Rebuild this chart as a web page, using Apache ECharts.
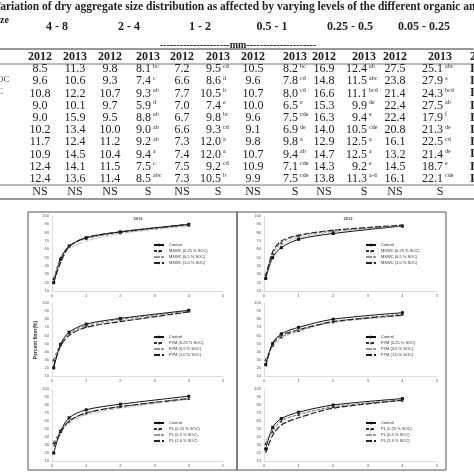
<!DOCTYPE html>
<html>
<head>
<meta charset="utf-8">
<script src="https://cdn.jsdelivr.net/npm/echarts@6/dist/echarts.min.js"></script>
<style>body{margin:0;background:#fff}#c{width:474px;height:474px}</style>
</head>
<body>
<div id="c"></div>
<script>
// table data
let groups = ['4 - 8', '2 - 4', '1 - 2', '0.5 - 1', '0.25 - 0.5', '0.05 - 0.25'];
let c48_12 = ['8.5','9.6','10.8','9.0','9.0','10.2','11.7','10.9','12.4','12.4'];
let c48_13 = ['11.3','10.6','12.2','10.1','15.9','13.4','12.4','14.5','14.1','13.6'];
let c24_12 = ['9.8','9.3','10.7','9.7','9.5','10.0','11.2','10.4','11.5','11.4'];
let c24_13 = ['8.1','7.4','9.3','5.9','8.8','9.0','9.2','9.4','7.5','8.5'];
let s24_13 = ['bc','c','ab','d','ab','ab','ab','a','c','abc'];
let c12_12 = ['7.2','6.6','7.7','7.0','6.7','6.6','7.3','7.4','7.5','7.3'];
let c12_13 = ['9.5','8.6','10.5','7.4','9.8','9.3','12.0','12.0','9.2','10.5'];
let s12_13 = ['cd','d','b','e','bc','cd','a','a','cd','b'];
let c051_12 = ['10.5','9.6','10.7','10.0','9.6','9.1','9.8','10.7','10.9','9.9'];
let c051_13 = ['8.2','7.8','8.0','6.5','7.5','6.9','9.8','9.4','7.1','7.5'];
let s051_13 = ['bc','cd','cd','e','cde','de','a','ab','cde','cde'];
let c025_12 = ['16.9','14.8','16.6','15.3','16.3','14.0','12.9','14.7','14.3','13.8'];
let c025_13 = ['12.4','11.5','11.1','9.9','9.4','10.5','12.5','12.5','9.2','11.3'];
let s025_13 = ['ab','abc','bcd','de','e','cde','a','a','e','a-d'];
let c005_12 = ['27.5','23.8','21.4','22.4','22.4','20.8','16.1','13.2','14.5','16.1'];
let c005_13 = ['25.1','27.9','24.3','27.5','17.9','21.3','22.5','21.4','18.7','22.1'];
let s005_13 = ['abc','a','bcd','ab','f','de','cd','de','e','cde'];
let signif = ['NS','NS','NS','S','NS','S','NS','S','NS','S','NS','S'];

// chart data
let sizes = [0.05, 0.25, 0.5, 1, 2, 4];
let panelNames = [
  ['Control', 'MSWC (0.25 % SOC)', 'MSWC (0.5 % SOC)', 'MSWC (1.0 % SOC)'],
  ['Control', 'FYM (0.25 % SOC)', 'FYM (0.5 % SOC)', 'FYM (1.0 % SOC)'],
  ['Control', 'PL (0.25 % SOC)', 'PL (0.5 % SOC)', 'PL (1.0 % SOC)']
];
let mswc12 = [[20,48,64,74,81,90],[25,50,64,73,80,89],[27,45,60,70,79,88],[20,44,63,74,81,90]];
let mswc13 = [[25,50,62,72,79,88],[30,55,68,76,82,88],[28,52,65,74,81,88],[26,57,70,77,83,89]];
let fym12 = [[20,49,64,74,81,91],[30,50,63,72,80,90],[27,48,62,70,78,89],[22,47,60,70,77,89]];
let fym13 = [[24,50,62,70,80,88],[30,48,58,66,77,86],[28,46,57,65,76,84],[22,50,60,67,77,85]];
let pl12 = [[20,47,64,74,81,91],[33,48,60,70,78,88],[30,46,58,68,76,87],[28,45,60,70,78,88]];
let pl13 = [[25,52,63,71,80,88],[32,47,60,68,78,86],[35,50,61,68,77,85],[20,42,55,64,76,86]];

let serif = 'Liberation Serif';
let g = [];
function txt(x, y, s, opt) {
  g.push({type: 'text', x: x, y: y, style: Object.assign({text: s, font: '12px "' + serif + '"', fill: '#222', align: 'center', verticalAlign: 'middle'}, opt || {})});
}
function hline(y, w) {
  g.push({type: 'line', shape: {x1: 0, y1: y, x2: 474, y2: y}, style: {stroke: '#777', lineWidth: w}});
}
let bold = 'bold 12px "' + serif + '"';
txt(-7, 7, 'Variation of dry aggregate size distribution as affected by varying levels of the different organic amendments', {align: 'left', font: 'bold 11.5px "' + serif + '"'});
txt(0, 20, 'ze', {align: 'left', font: 'bold 10px "' + serif + '"'});
txt(-3, 80, 'OC', {align: 'left', font: '9px "' + serif + '"', fill: '#555'});
txt(-3, 92, 'C', {align: 'left', font: '9px "' + serif + '"', fill: '#555'});
let gx = [57, 129, 200, 272, 350, 424];
groups.forEach(function (s, i) { txt(gx[i], 27, s, {font: bold}); });
txt(238, 45, '---------------------mm---------------------', {font: 'bold 10px "' + serif + '"'});
hline(49, 1.5); hline(64, 1); hline(185, 1); hline(199, 1.5);
let yx12 = [40, 110, 182, 253, 324, 395];
let yx13 = [75, 148, 218, 295, 364, 440];
for (let i = 0; i < 6; i++) {
  txt(yx12[i], 57, '2012', {font: bold});
  txt(yx13[i], 57, '2013', {font: bold});
}
txt(470, 57, '2012', {align: 'left', font: bold});
let cols12 = [c48_12, c24_12, c12_12, c051_12, c025_12, c005_12];
let cols13 = [c48_13, c24_13, c12_13, c051_13, c025_13, c005_13];
let sups = [null, s24_13, s12_13, s051_13, s025_13, s005_13];
for (let r = 0; r < 10; r++) {
  let y = 69 + r * 12.2;
  for (let i = 0; i < 6; i++) {
    txt(yx12[i], y, cols12[i][r]);
    if (sups[i]) {
      txt(yx13[i] + 3, y, cols13[i][r], {align: 'right'});
      txt(yx13[i] + 5, y - 3, sups[i][r], {align: 'left', font: '6px "' + serif + '"'});
    } else {
      txt(yx13[i], y, cols13[i][r]);
    }
  }
  txt(470, y, 'I', {align: 'left', font: bold});
}
signif.forEach(function (s, i) { txt(i % 2 ? yx13[i >> 1] : yx12[i >> 1], 192, s); });

// panels
g.push({type: 'rect', shape: {x: 28, y: 212, width: 209, height: 258}, style: {fill: 'none', stroke: '#555', lineWidth: 1}});
g.push({type: 'rect', shape: {x: 237, y: 212, width: 209, height: 258}, style: {fill: 'none', stroke: '#555', lineWidth: 1}});
txt(138, 219, '2012', {font: 'bold 4px sans-serif', fill: '#444'});
txt(348, 219, '2013', {font: 'bold 4px sans-serif', fill: '#444'});
g.push({type: 'text', x: 36, y: 340, rotation: Math.PI / 2, style: {text: 'Percent finer(%)', font: 'bold 5px sans-serif', fill: '#333', align: 'center', verticalAlign: 'middle'}});

let panelData = [[mswc12, mswc13], [fym12, fym13], [pl12, pl13]];
let rowTop = [216, 303, 389];
let rowH = [75, 73, 72];
let colLeft = [52, 264];
let colW = [171, 173];
let styles = [
  {type: 'solid', color: '#111', width: 1, symbol: 'rect', size: 3},
  {type: [3, 2], color: '#333', width: 0.7, symbol: 'triangle', size: 3},
  {type: [4, 1, 1, 1], color: '#999', width: 0.7, symbol: 'none', size: 0},
  {type: [6, 2], color: '#222', width: 1.2, symbol: 'none', size: 0}
];
let grids = [], xAxes = [], yAxes = [], series = [], legends = [];
let k = 0;
for (let r = 0; r < 3; r++) {
  for (let c = 0; c < 2; c++) {
    grids.push({left: colLeft[c], top: rowTop[r], width: colW[c], height: rowH[r]});
    xAxes.push({gridIndex: k, type: 'value', min: 0, max: 5, interval: 1,
      axisLine: {lineStyle: {color: '#bbb', width: 0.5}}, axisTick: {show: false}, splitLine: {show: false},
      axisLabel: {fontSize: 4, color: '#555', margin: 3}});
    yAxes.push({gridIndex: k, type: 'value', min: 10, max: 100, interval: 10,
      axisLine: {show: true, lineStyle: {color: '#bbb', width: 0.5}}, axisTick: {show: false}, splitLine: {show: false},
      axisLabel: {fontSize: 4, color: '#555', margin: 3}});
    let names = [];
    panelData[r][c].forEach(function (vals, j) {
      let nm = panelNames[r][j] + '#' + k;
      names.push(nm);
      series.push({name: nm, type: 'line', xAxisIndex: k, yAxisIndex: k, smooth: 0.3,
        data: vals.map(function (v, i) { return [sizes[i], v]; }),
        symbol: styles[j].symbol, symbolSize: styles[j].size,
        itemStyle: {color: styles[j].color},
        lineStyle: {type: styles[j].type, color: styles[j].color, width: styles[j].width}});
    });
    legends.push({data: names, orient: 'vertical', left: colLeft[c] + 96, top: rowTop[r] + 22 + (r ? 5 : 0),
      itemWidth: 10, itemHeight: 3, itemGap: 2,
      textStyle: {fontSize: 4, color: '#333'},
      formatter: function (n) { return n.split('#')[0]; }});
    k++;
  }
}

let chart = echarts.init(document.getElementById('c'));
chart.setOption({
  animation: false,
  grid: grids, xAxis: xAxes, yAxis: yAxes, series: series, legend: legends,
  graphic: g
});
</script>
</body>
</html>
